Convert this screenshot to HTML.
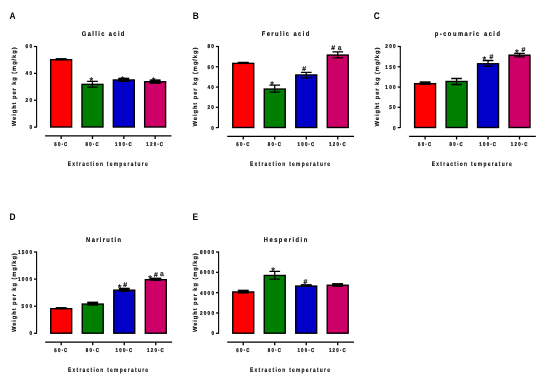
<!DOCTYPE html>
<html><head><meta charset="utf-8"><title>Figure</title>
<style>
html,body{margin:0;padding:0;background:#fff;}
svg{display:block;font-family:"Liberation Sans", sans-serif;text-rendering:geometricPrecision;}
</style></head><body>
<svg width="550" height="379" viewBox="0 0 550 379" fill="#000">
<rect width="550" height="379" fill="#fff"/>
<g>
<text transform="translate(9.40,19.10) scale(0.88,1)" font-size="9.5" font-weight="bold" stroke="#000" stroke-width="0.0">A</text>
<text transform="translate(81.80,35.50) scale(0.85,1)" font-size="6.8" font-weight="bold" stroke="#000" stroke-width="0.12" textLength="50.12" lengthAdjust="spacing">Gallic acid</text>
<path d="M36.6 46.00V127.60" stroke="#000" stroke-width="1.1" fill="none"/>
<path d="M34.00 127.10H36.6" stroke="#000" stroke-width="1.25" fill="none"/>
<text transform="translate(32.00,129.00) scale(0.85,1)" font-size="5.5" font-weight="bold" stroke="#000" stroke-width="0.2" text-anchor="end">0</text>
<path d="M34.00 100.23H36.6" stroke="#000" stroke-width="1.25" fill="none"/>
<text transform="translate(25.60,102.13) scale(0.85,1)" font-size="5.5" font-weight="bold" stroke="#000" stroke-width="0.2" textLength="7.53" lengthAdjust="spacing">20</text>
<path d="M34.00 73.37H36.6" stroke="#000" stroke-width="1.25" fill="none"/>
<text transform="translate(25.60,75.27) scale(0.85,1)" font-size="5.5" font-weight="bold" stroke="#000" stroke-width="0.2" textLength="7.53" lengthAdjust="spacing">40</text>
<path d="M34.00 46.50H36.6" stroke="#000" stroke-width="1.25" fill="none"/>
<text transform="translate(25.60,48.40) scale(0.85,1)" font-size="5.5" font-weight="bold" stroke="#000" stroke-width="0.2" textLength="7.53" lengthAdjust="spacing">60</text>
<text transform="translate(13.7,86.80) rotate(-90) scale(0.96,1)" x="-41.04" y="1.9" font-size="6" font-weight="bold" stroke="#000" stroke-width="0.08" textLength="82.08" lengthAdjust="spacing">Weight per kg (mg/kg)</text>
<path d="M61.15 58.80V59.67M55.80 58.80h10.7" stroke="#000" stroke-width="1.3" fill="none"/>
<rect x="50.67" y="59.67" width="20.95" height="67.33" fill="#ff0000" stroke="#000" stroke-width="1.4"/>
<path d="M61.15 59.67V59.60M55.80 59.60h10.7" stroke="#000" stroke-width="1.3" fill="none"/>
<rect x="55.80" y="58.30" width="10.7" height="1.80" fill="#000"/>
<path d="M92.48 81.30V84.37M87.13 81.30h10.7" stroke="#000" stroke-width="1.3" fill="none"/>
<rect x="82.00" y="84.37" width="20.95" height="42.63" fill="#008000" stroke="#000" stroke-width="1.4"/>
<path d="M92.48 84.37V87.20M87.13 87.20h10.7" stroke="#000" stroke-width="1.3" fill="none"/>
<path d="M123.81 78.40V79.97M118.46 78.40h10.7" stroke="#000" stroke-width="1.3" fill="none"/>
<rect x="113.34" y="79.97" width="20.95" height="47.03" fill="#0000c8" stroke="#000" stroke-width="1.4"/>
<path d="M123.81 79.97V81.30M118.46 81.30h10.7" stroke="#000" stroke-width="1.3" fill="none"/>
<rect x="118.46" y="77.90" width="10.7" height="3.90" fill="#000"/>
<path d="M155.14 80.20V81.77M149.79 80.20h10.7" stroke="#000" stroke-width="1.3" fill="none"/>
<rect x="144.66" y="81.77" width="20.95" height="45.23" fill="#cc0066" stroke="#000" stroke-width="1.4"/>
<path d="M155.14 81.77V83.00M149.79 83.00h10.7" stroke="#000" stroke-width="1.3" fill="none"/>
<rect x="149.79" y="79.70" width="10.7" height="3.80" fill="#000"/>
<path d="M45.10 135.90H171.44" stroke="#000" stroke-width="1.1" fill="none"/>
<path d="M61.15 135.90v3.1" stroke="#000" stroke-width="1.3" fill="none"/>
<text transform="translate(54.15,145.70) scale(0.8,1)" font-size="5.5" font-weight="bold" stroke="#000" stroke-width="0.2" textLength="16.38" lengthAdjust="spacing">60<tspan font-size="3.4" dy="-0.2">°</tspan><tspan dy="0.2">C</tspan></text>
<path d="M92.48 135.90v3.1" stroke="#000" stroke-width="1.3" fill="none"/>
<text transform="translate(85.48,145.70) scale(0.8,1)" font-size="5.5" font-weight="bold" stroke="#000" stroke-width="0.2" textLength="16.38" lengthAdjust="spacing">80<tspan font-size="3.4" dy="-0.2">°</tspan><tspan dy="0.2">C</tspan></text>
<path d="M123.81 135.90v3.1" stroke="#000" stroke-width="1.3" fill="none"/>
<text transform="translate(115.01,145.70) scale(0.8,1)" font-size="5.5" font-weight="bold" stroke="#000" stroke-width="0.2" textLength="20.87" lengthAdjust="spacing">100<tspan font-size="3.4" dy="-0.2">°</tspan><tspan dy="0.2">C</tspan></text>
<path d="M155.14 135.90v3.1" stroke="#000" stroke-width="1.3" fill="none"/>
<text transform="translate(146.34,145.70) scale(0.8,1)" font-size="5.5" font-weight="bold" stroke="#000" stroke-width="0.2" textLength="20.87" lengthAdjust="spacing">120<tspan font-size="3.4" dy="-0.2">°</tspan><tspan dy="0.2">C</tspan></text>
<text transform="translate(67.67,165.80) scale(0.76,1)" font-size="6.4" font-weight="bold" stroke="#000" stroke-width="0.12" textLength="105.26" lengthAdjust="spacing">Extraction temperature</text>
<text x="91.3" y="84.30" font-size="9.5" stroke="#000" stroke-width="0.2" text-anchor="middle">*</text>
<text x="122.5" y="82.60" font-size="9.5" stroke="#000" stroke-width="0.2" text-anchor="middle">*</text>
<text x="153.7" y="84.10" font-size="9.5" stroke="#000" stroke-width="0.2" text-anchor="middle">*</text>
</g>
<g>
<text transform="translate(192.70,19.10) scale(0.88,1)" font-size="9.5" font-weight="bold" stroke="#000" stroke-width="0.0">B</text>
<text transform="translate(261.80,35.50) scale(0.85,1)" font-size="6.8" font-weight="bold" stroke="#000" stroke-width="0.12" textLength="55.76" lengthAdjust="spacing">Ferulic acid</text>
<path d="M218.45 46.00V128.10" stroke="#000" stroke-width="1.1" fill="none"/>
<path d="M215.85 127.60H218.45" stroke="#000" stroke-width="1.25" fill="none"/>
<text transform="translate(213.85,129.50) scale(0.85,1)" font-size="5.5" font-weight="bold" stroke="#000" stroke-width="0.2" text-anchor="end">0</text>
<path d="M215.85 107.32H218.45" stroke="#000" stroke-width="1.25" fill="none"/>
<text transform="translate(207.45,109.22) scale(0.85,1)" font-size="5.5" font-weight="bold" stroke="#000" stroke-width="0.2" textLength="7.53" lengthAdjust="spacing">20</text>
<path d="M215.85 87.05H218.45" stroke="#000" stroke-width="1.25" fill="none"/>
<text transform="translate(207.45,88.95) scale(0.85,1)" font-size="5.5" font-weight="bold" stroke="#000" stroke-width="0.2" textLength="7.53" lengthAdjust="spacing">40</text>
<path d="M215.85 66.78H218.45" stroke="#000" stroke-width="1.25" fill="none"/>
<text transform="translate(207.45,68.68) scale(0.85,1)" font-size="5.5" font-weight="bold" stroke="#000" stroke-width="0.2" textLength="7.53" lengthAdjust="spacing">60</text>
<path d="M215.85 46.50H218.45" stroke="#000" stroke-width="1.25" fill="none"/>
<text transform="translate(207.45,48.40) scale(0.85,1)" font-size="5.5" font-weight="bold" stroke="#000" stroke-width="0.2" textLength="7.53" lengthAdjust="spacing">80</text>
<text transform="translate(195.1,87.05) rotate(-90) scale(0.96,1)" x="-41.04" y="1.9" font-size="6" font-weight="bold" stroke="#000" stroke-width="0.08" textLength="82.08" lengthAdjust="spacing">Weight per kg (mg/kg)</text>
<path d="M243.25 62.50V63.37M237.90 62.50h10.7" stroke="#000" stroke-width="1.3" fill="none"/>
<rect x="232.78" y="63.37" width="20.95" height="64.13" fill="#ff0000" stroke="#000" stroke-width="1.4"/>
<path d="M243.25 63.37V63.30M237.90 63.30h10.7" stroke="#000" stroke-width="1.3" fill="none"/>
<rect x="237.90" y="62.00" width="10.7" height="1.80" fill="#000"/>
<path d="M274.75 85.20V89.07M269.40 85.20h10.7" stroke="#000" stroke-width="1.3" fill="none"/>
<rect x="264.27" y="89.07" width="20.95" height="38.43" fill="#008000" stroke="#000" stroke-width="1.4"/>
<path d="M274.75 89.07V92.20M269.40 92.20h10.7" stroke="#000" stroke-width="1.3" fill="none"/>
<path d="M306.25 72.30V74.97M300.90 72.30h10.7" stroke="#000" stroke-width="1.3" fill="none"/>
<rect x="295.77" y="74.97" width="20.95" height="52.53" fill="#0000c8" stroke="#000" stroke-width="1.4"/>
<path d="M306.25 74.97V77.90M300.90 77.90h10.7" stroke="#000" stroke-width="1.3" fill="none"/>
<path d="M337.75 51.80V55.07M332.40 51.80h10.7" stroke="#000" stroke-width="1.3" fill="none"/>
<rect x="327.27" y="55.07" width="20.95" height="72.43" fill="#cc0066" stroke="#000" stroke-width="1.4"/>
<path d="M337.75 55.07V57.90M332.40 57.90h10.7" stroke="#000" stroke-width="1.3" fill="none"/>
<path d="M227.20 136.40H354.05" stroke="#000" stroke-width="1.1" fill="none"/>
<path d="M243.25 136.40v3.1" stroke="#000" stroke-width="1.3" fill="none"/>
<text transform="translate(236.25,146.20) scale(0.8,1)" font-size="5.5" font-weight="bold" stroke="#000" stroke-width="0.2" textLength="16.38" lengthAdjust="spacing">60<tspan font-size="3.4" dy="-0.2">°</tspan><tspan dy="0.2">C</tspan></text>
<path d="M274.75 136.40v3.1" stroke="#000" stroke-width="1.3" fill="none"/>
<text transform="translate(267.75,146.20) scale(0.8,1)" font-size="5.5" font-weight="bold" stroke="#000" stroke-width="0.2" textLength="16.38" lengthAdjust="spacing">80<tspan font-size="3.4" dy="-0.2">°</tspan><tspan dy="0.2">C</tspan></text>
<path d="M306.25 136.40v3.1" stroke="#000" stroke-width="1.3" fill="none"/>
<text transform="translate(297.45,146.20) scale(0.8,1)" font-size="5.5" font-weight="bold" stroke="#000" stroke-width="0.2" textLength="20.87" lengthAdjust="spacing">100<tspan font-size="3.4" dy="-0.2">°</tspan><tspan dy="0.2">C</tspan></text>
<path d="M337.75 136.40v3.1" stroke="#000" stroke-width="1.3" fill="none"/>
<text transform="translate(328.95,146.20) scale(0.8,1)" font-size="5.5" font-weight="bold" stroke="#000" stroke-width="0.2" textLength="20.87" lengthAdjust="spacing">120<tspan font-size="3.4" dy="-0.2">°</tspan><tspan dy="0.2">C</tspan></text>
<text transform="translate(250.03,166.30) scale(0.76,1)" font-size="6.4" font-weight="bold" stroke="#000" stroke-width="0.12" textLength="105.26" lengthAdjust="spacing">Extraction temperature</text>
<text x="272.0" y="88.30" font-size="9.5" stroke="#000" stroke-width="0.2" text-anchor="middle">*</text>
<text x="304.1" y="71.2" font-size="6.8" stroke="#000" stroke-width="0.2" text-anchor="middle">#</text>
<text x="333.2" y="49.8" font-size="6.8" stroke="#000" stroke-width="0.2" text-anchor="middle">#</text>
<text x="339.7" y="49.8" font-size="6.8" stroke="#000" stroke-width="0.2" text-anchor="middle">a</text>
</g>
<g>
<text transform="translate(373.70,19.10) scale(0.88,1)" font-size="9.5" font-weight="bold" stroke="#000" stroke-width="0.0">C</text>
<text transform="translate(434.70,35.50) scale(0.85,1)" font-size="6.8" font-weight="bold" stroke="#000" stroke-width="0.12" textLength="76.82" lengthAdjust="spacing">p-coumaric acid</text>
<path d="M400.3 46.00V128.10" stroke="#000" stroke-width="1.1" fill="none"/>
<path d="M397.70 127.60H400.3" stroke="#000" stroke-width="1.25" fill="none"/>
<text transform="translate(395.70,129.50) scale(0.85,1)" font-size="5.5" font-weight="bold" stroke="#000" stroke-width="0.2" text-anchor="end">0</text>
<path d="M397.70 107.32H400.3" stroke="#000" stroke-width="1.25" fill="none"/>
<text transform="translate(389.30,109.22) scale(0.85,1)" font-size="5.5" font-weight="bold" stroke="#000" stroke-width="0.2" textLength="7.53" lengthAdjust="spacing">50</text>
<path d="M397.70 87.05H400.3" stroke="#000" stroke-width="1.25" fill="none"/>
<text transform="translate(385.20,88.95) scale(0.85,1)" font-size="5.5" font-weight="bold" stroke="#000" stroke-width="0.2" textLength="12.35" lengthAdjust="spacing">100</text>
<path d="M397.70 66.78H400.3" stroke="#000" stroke-width="1.25" fill="none"/>
<text transform="translate(385.20,68.68) scale(0.85,1)" font-size="5.5" font-weight="bold" stroke="#000" stroke-width="0.2" textLength="12.35" lengthAdjust="spacing">150</text>
<path d="M397.70 46.50H400.3" stroke="#000" stroke-width="1.25" fill="none"/>
<text transform="translate(385.20,48.40) scale(0.85,1)" font-size="5.5" font-weight="bold" stroke="#000" stroke-width="0.2" textLength="12.35" lengthAdjust="spacing">200</text>
<text transform="translate(376.8,87.05) rotate(-90) scale(0.96,1)" x="-41.04" y="1.9" font-size="6" font-weight="bold" stroke="#000" stroke-width="0.08" textLength="82.08" lengthAdjust="spacing">Weight per kg (mg/kg)</text>
<path d="M425.10 82.10V83.67M419.75 82.10h10.7" stroke="#000" stroke-width="1.3" fill="none"/>
<rect x="414.62" y="83.67" width="20.95" height="43.83" fill="#ff0000" stroke="#000" stroke-width="1.4"/>
<path d="M425.10 83.67V84.30M419.75 84.30h10.7" stroke="#000" stroke-width="1.3" fill="none"/>
<rect x="419.75" y="81.60" width="10.7" height="3.20" fill="#000"/>
<path d="M456.57 78.50V81.47M451.22 78.50h10.7" stroke="#000" stroke-width="1.3" fill="none"/>
<rect x="446.10" y="81.47" width="20.95" height="46.03" fill="#008000" stroke="#000" stroke-width="1.4"/>
<path d="M456.57 81.47V84.50M451.22 84.50h10.7" stroke="#000" stroke-width="1.3" fill="none"/>
<path d="M488.04 60.50V63.77M482.69 60.50h10.7" stroke="#000" stroke-width="1.3" fill="none"/>
<rect x="477.56" y="63.77" width="20.95" height="63.73" fill="#0000c8" stroke="#000" stroke-width="1.4"/>
<path d="M488.04 63.77V66.40M482.69 66.40h10.7" stroke="#000" stroke-width="1.3" fill="none"/>
<path d="M519.51 53.30V55.17M514.16 53.30h10.7" stroke="#000" stroke-width="1.3" fill="none"/>
<rect x="509.03" y="55.17" width="20.95" height="72.33" fill="#cc0066" stroke="#000" stroke-width="1.4"/>
<path d="M519.51 55.17V56.80M514.16 56.80h10.7" stroke="#000" stroke-width="1.3" fill="none"/>
<path d="M409.05 136.40H535.81" stroke="#000" stroke-width="1.1" fill="none"/>
<path d="M425.10 136.40v3.1" stroke="#000" stroke-width="1.3" fill="none"/>
<text transform="translate(418.10,146.20) scale(0.8,1)" font-size="5.5" font-weight="bold" stroke="#000" stroke-width="0.2" textLength="16.38" lengthAdjust="spacing">60<tspan font-size="3.4" dy="-0.2">°</tspan><tspan dy="0.2">C</tspan></text>
<path d="M456.57 136.40v3.1" stroke="#000" stroke-width="1.3" fill="none"/>
<text transform="translate(449.57,146.20) scale(0.8,1)" font-size="5.5" font-weight="bold" stroke="#000" stroke-width="0.2" textLength="16.38" lengthAdjust="spacing">80<tspan font-size="3.4" dy="-0.2">°</tspan><tspan dy="0.2">C</tspan></text>
<path d="M488.04 136.40v3.1" stroke="#000" stroke-width="1.3" fill="none"/>
<text transform="translate(479.24,146.20) scale(0.8,1)" font-size="5.5" font-weight="bold" stroke="#000" stroke-width="0.2" textLength="20.87" lengthAdjust="spacing">100<tspan font-size="3.4" dy="-0.2">°</tspan><tspan dy="0.2">C</tspan></text>
<path d="M519.51 136.40v3.1" stroke="#000" stroke-width="1.3" fill="none"/>
<text transform="translate(510.71,146.20) scale(0.8,1)" font-size="5.5" font-weight="bold" stroke="#000" stroke-width="0.2" textLength="20.87" lengthAdjust="spacing">120<tspan font-size="3.4" dy="-0.2">°</tspan><tspan dy="0.2">C</tspan></text>
<text transform="translate(431.83,166.30) scale(0.76,1)" font-size="6.4" font-weight="bold" stroke="#000" stroke-width="0.12" textLength="105.26" lengthAdjust="spacing">Extraction temperature</text>
<text x="484.4" y="62.60" font-size="9.5" stroke="#000" stroke-width="0.2" text-anchor="middle">*</text>
<text x="491.3" y="58.6" font-size="6.8" stroke="#000" stroke-width="0.2" text-anchor="middle">#</text>
<text x="516.9" y="56.20" font-size="9.5" stroke="#000" stroke-width="0.2" text-anchor="middle">*</text>
<text x="523.5" y="51.8" font-size="6.8" stroke="#000" stroke-width="0.2" text-anchor="middle">#</text>
</g>
<g>
<text transform="translate(9.40,220.30) scale(0.88,1)" font-size="9.5" font-weight="bold" stroke="#000" stroke-width="0.0">D</text>
<text transform="translate(86.10,241.50) scale(0.85,1)" font-size="6.8" font-weight="bold" stroke="#000" stroke-width="0.12" textLength="41.06" lengthAdjust="spacing">Narirutin</text>
<path d="M36.6 251.50V333.80" stroke="#000" stroke-width="1.1" fill="none"/>
<path d="M34.00 333.30H36.6" stroke="#000" stroke-width="1.25" fill="none"/>
<text transform="translate(32.00,335.20) scale(0.85,1)" font-size="5.5" font-weight="bold" stroke="#000" stroke-width="0.2" text-anchor="end">0</text>
<path d="M34.00 306.20H36.6" stroke="#000" stroke-width="1.25" fill="none"/>
<text transform="translate(21.50,308.10) scale(0.85,1)" font-size="5.5" font-weight="bold" stroke="#000" stroke-width="0.2" textLength="12.35" lengthAdjust="spacing">500</text>
<path d="M34.00 279.10H36.6" stroke="#000" stroke-width="1.25" fill="none"/>
<text transform="translate(18.00,281.00) scale(0.85,1)" font-size="5.5" font-weight="bold" stroke="#000" stroke-width="0.2" textLength="16.47" lengthAdjust="spacing">1000</text>
<path d="M34.00 252.00H36.6" stroke="#000" stroke-width="1.25" fill="none"/>
<text transform="translate(18.00,253.90) scale(0.85,1)" font-size="5.5" font-weight="bold" stroke="#000" stroke-width="0.2" textLength="16.47" lengthAdjust="spacing">1500</text>
<text transform="translate(13.7,292.65) rotate(-90) scale(0.96,1)" x="-41.04" y="1.9" font-size="6" font-weight="bold" stroke="#000" stroke-width="0.08" textLength="82.08" lengthAdjust="spacing">Weight per kg (mg/kg)</text>
<path d="M61.20 307.90V308.67M55.85 307.90h10.7" stroke="#000" stroke-width="1.3" fill="none"/>
<rect x="50.73" y="308.67" width="20.95" height="24.53" fill="#ff0000" stroke="#000" stroke-width="1.4"/>
<path d="M61.20 308.67V308.50M55.85 308.50h10.7" stroke="#000" stroke-width="1.3" fill="none"/>
<rect x="55.85" y="307.40" width="10.7" height="1.60" fill="#000"/>
<path d="M92.73 302.30V304.07M87.38 302.30h10.7" stroke="#000" stroke-width="1.3" fill="none"/>
<rect x="82.26" y="304.07" width="20.95" height="29.13" fill="#008000" stroke="#000" stroke-width="1.4"/>
<path d="M92.73 304.07V304.80M87.38 304.80h10.7" stroke="#000" stroke-width="1.3" fill="none"/>
<rect x="87.38" y="301.80" width="10.7" height="3.50" fill="#000"/>
<path d="M124.26 288.40V290.17M118.91 288.40h10.7" stroke="#000" stroke-width="1.3" fill="none"/>
<rect x="113.79" y="290.17" width="20.95" height="43.03" fill="#0000c8" stroke="#000" stroke-width="1.4"/>
<path d="M124.26 290.17V291.00M118.91 291.00h10.7" stroke="#000" stroke-width="1.3" fill="none"/>
<rect x="118.91" y="287.90" width="10.7" height="3.60" fill="#000"/>
<path d="M155.79 278.30V279.67M150.44 278.30h10.7" stroke="#000" stroke-width="1.3" fill="none"/>
<rect x="145.32" y="279.67" width="20.95" height="53.53" fill="#cc0066" stroke="#000" stroke-width="1.4"/>
<path d="M155.79 279.67V280.10M150.44 280.10h10.7" stroke="#000" stroke-width="1.3" fill="none"/>
<rect x="150.44" y="277.80" width="10.7" height="2.80" fill="#000"/>
<path d="M45.15 342.10H172.09" stroke="#000" stroke-width="1.1" fill="none"/>
<path d="M61.20 342.10v3.1" stroke="#000" stroke-width="1.3" fill="none"/>
<text transform="translate(54.20,351.90) scale(0.8,1)" font-size="5.5" font-weight="bold" stroke="#000" stroke-width="0.2" textLength="16.38" lengthAdjust="spacing">60<tspan font-size="3.4" dy="-0.2">°</tspan><tspan dy="0.2">C</tspan></text>
<path d="M92.73 342.10v3.1" stroke="#000" stroke-width="1.3" fill="none"/>
<text transform="translate(85.73,351.90) scale(0.8,1)" font-size="5.5" font-weight="bold" stroke="#000" stroke-width="0.2" textLength="16.38" lengthAdjust="spacing">80<tspan font-size="3.4" dy="-0.2">°</tspan><tspan dy="0.2">C</tspan></text>
<path d="M124.26 342.10v3.1" stroke="#000" stroke-width="1.3" fill="none"/>
<text transform="translate(115.46,351.90) scale(0.8,1)" font-size="5.5" font-weight="bold" stroke="#000" stroke-width="0.2" textLength="20.87" lengthAdjust="spacing">100<tspan font-size="3.4" dy="-0.2">°</tspan><tspan dy="0.2">C</tspan></text>
<path d="M155.79 342.10v3.1" stroke="#000" stroke-width="1.3" fill="none"/>
<text transform="translate(146.99,351.90) scale(0.8,1)" font-size="5.5" font-weight="bold" stroke="#000" stroke-width="0.2" textLength="20.87" lengthAdjust="spacing">120<tspan font-size="3.4" dy="-0.2">°</tspan><tspan dy="0.2">C</tspan></text>
<text transform="translate(68.02,372.00) scale(0.76,1)" font-size="6.4" font-weight="bold" stroke="#000" stroke-width="0.12" textLength="105.26" lengthAdjust="spacing">Extraction temperature</text>
<text x="119.5" y="291.30" font-size="9.5" stroke="#000" stroke-width="0.2" text-anchor="middle">*</text>
<text x="125.2" y="286.7" font-size="6.8" stroke="#000" stroke-width="0.2" text-anchor="middle">#</text>
<text x="150.1" y="281.70" font-size="9.5" stroke="#000" stroke-width="0.2" text-anchor="middle">*</text>
<text x="155.9" y="276.6" font-size="6.8" stroke="#000" stroke-width="0.2" text-anchor="middle">#</text>
<text x="161.9" y="276.2" font-size="6.8" stroke="#000" stroke-width="0.2" text-anchor="middle">a</text>
</g>
<g>
<text transform="translate(192.60,220.30) scale(0.88,1)" font-size="9.5" font-weight="bold" stroke="#000" stroke-width="0.0">E</text>
<text transform="translate(263.70,241.50) scale(0.85,1)" font-size="6.8" font-weight="bold" stroke="#000" stroke-width="0.12" textLength="51.29" lengthAdjust="spacing">Hesperidin</text>
<path d="M218.6 251.50V333.80" stroke="#000" stroke-width="1.1" fill="none"/>
<path d="M216.00 333.30H218.6" stroke="#000" stroke-width="1.25" fill="none"/>
<text transform="translate(214.00,335.20) scale(0.85,1)" font-size="5.5" font-weight="bold" stroke="#000" stroke-width="0.2" text-anchor="end">0</text>
<path d="M216.00 312.98H218.6" stroke="#000" stroke-width="1.25" fill="none"/>
<text transform="translate(200.00,314.88) scale(0.85,1)" font-size="5.5" font-weight="bold" stroke="#000" stroke-width="0.2" textLength="16.47" lengthAdjust="spacing">2000</text>
<path d="M216.00 292.65H218.6" stroke="#000" stroke-width="1.25" fill="none"/>
<text transform="translate(200.00,294.55) scale(0.85,1)" font-size="5.5" font-weight="bold" stroke="#000" stroke-width="0.2" textLength="16.47" lengthAdjust="spacing">4000</text>
<path d="M216.00 272.32H218.6" stroke="#000" stroke-width="1.25" fill="none"/>
<text transform="translate(200.00,274.22) scale(0.85,1)" font-size="5.5" font-weight="bold" stroke="#000" stroke-width="0.2" textLength="16.47" lengthAdjust="spacing">6000</text>
<path d="M216.00 252.00H218.6" stroke="#000" stroke-width="1.25" fill="none"/>
<text transform="translate(200.00,253.90) scale(0.85,1)" font-size="5.5" font-weight="bold" stroke="#000" stroke-width="0.2" textLength="16.47" lengthAdjust="spacing">8000</text>
<text transform="translate(195.3,292.65) rotate(-90) scale(0.96,1)" x="-41.04" y="1.9" font-size="6" font-weight="bold" stroke="#000" stroke-width="0.08" textLength="82.08" lengthAdjust="spacing">Weight per kg (mg/kg)</text>
<path d="M243.25 290.40V291.97M237.90 290.40h10.7" stroke="#000" stroke-width="1.3" fill="none"/>
<rect x="232.78" y="291.97" width="20.95" height="41.23" fill="#ff0000" stroke="#000" stroke-width="1.4"/>
<path d="M243.25 291.97V292.80M237.90 292.80h10.7" stroke="#000" stroke-width="1.3" fill="none"/>
<rect x="237.90" y="289.90" width="10.7" height="3.40" fill="#000"/>
<path d="M274.73 271.30V275.47M269.38 271.30h10.7" stroke="#000" stroke-width="1.3" fill="none"/>
<rect x="264.25" y="275.47" width="20.95" height="57.73" fill="#008000" stroke="#000" stroke-width="1.4"/>
<path d="M274.73 275.47V279.10M269.38 279.10h10.7" stroke="#000" stroke-width="1.3" fill="none"/>
<path d="M306.21 285.00V286.07M300.86 285.00h10.7" stroke="#000" stroke-width="1.3" fill="none"/>
<rect x="295.73" y="286.07" width="20.95" height="47.13" fill="#0000c8" stroke="#000" stroke-width="1.4"/>
<path d="M306.21 286.07V286.40M300.86 286.40h10.7" stroke="#000" stroke-width="1.3" fill="none"/>
<rect x="300.86" y="284.50" width="10.7" height="2.40" fill="#000"/>
<path d="M337.69 283.80V285.27M332.34 283.80h10.7" stroke="#000" stroke-width="1.3" fill="none"/>
<rect x="327.21" y="285.27" width="20.95" height="47.93" fill="#cc0066" stroke="#000" stroke-width="1.4"/>
<path d="M337.69 285.27V286.10M332.34 286.10h10.7" stroke="#000" stroke-width="1.3" fill="none"/>
<rect x="332.34" y="283.30" width="10.7" height="3.30" fill="#000"/>
<path d="M227.20 342.10H353.99" stroke="#000" stroke-width="1.1" fill="none"/>
<path d="M243.25 342.10v3.1" stroke="#000" stroke-width="1.3" fill="none"/>
<text transform="translate(236.25,351.90) scale(0.8,1)" font-size="5.5" font-weight="bold" stroke="#000" stroke-width="0.2" textLength="16.38" lengthAdjust="spacing">60<tspan font-size="3.4" dy="-0.2">°</tspan><tspan dy="0.2">C</tspan></text>
<path d="M274.73 342.10v3.1" stroke="#000" stroke-width="1.3" fill="none"/>
<text transform="translate(267.73,351.90) scale(0.8,1)" font-size="5.5" font-weight="bold" stroke="#000" stroke-width="0.2" textLength="16.38" lengthAdjust="spacing">80<tspan font-size="3.4" dy="-0.2">°</tspan><tspan dy="0.2">C</tspan></text>
<path d="M306.21 342.10v3.1" stroke="#000" stroke-width="1.3" fill="none"/>
<text transform="translate(297.41,351.90) scale(0.8,1)" font-size="5.5" font-weight="bold" stroke="#000" stroke-width="0.2" textLength="20.87" lengthAdjust="spacing">100<tspan font-size="3.4" dy="-0.2">°</tspan><tspan dy="0.2">C</tspan></text>
<path d="M337.69 342.10v3.1" stroke="#000" stroke-width="1.3" fill="none"/>
<text transform="translate(328.89,351.90) scale(0.8,1)" font-size="5.5" font-weight="bold" stroke="#000" stroke-width="0.2" textLength="20.87" lengthAdjust="spacing">120<tspan font-size="3.4" dy="-0.2">°</tspan><tspan dy="0.2">C</tspan></text>
<text transform="translate(249.99,372.00) scale(0.76,1)" font-size="6.4" font-weight="bold" stroke="#000" stroke-width="0.12" textLength="105.26" lengthAdjust="spacing">Extraction temperature</text>
<text x="273.1" y="273.80" font-size="9.5" stroke="#000" stroke-width="0.2" text-anchor="middle">*</text>
<text x="305.3" y="283.7" font-size="6.8" stroke="#000" stroke-width="0.2" text-anchor="middle">#</text>
</g>
</svg>
</body></html>
